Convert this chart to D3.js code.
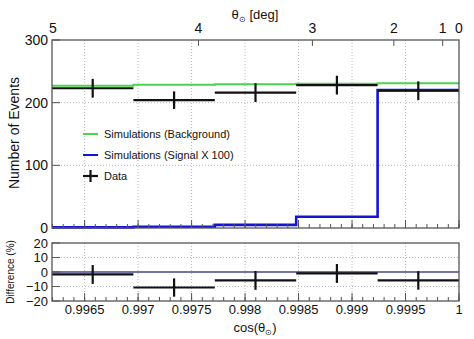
<!DOCTYPE html>
<html>
<head>
<meta charset="utf-8">
<script src="https://cdn.jsdelivr.net/npm/d3@7"></script>
<style>
  html, body { margin: 0; padding: 0; background: #fff; }
  svg { display: block; }
  text { font-family: "Liberation Sans", Arial, Helvetica, sans-serif; fill: #111; }
</style>
</head>
<body>
<svg id="chart" width="474" height="339"></svg>
<script>
// Bin edges in cos(theta_sun), five equal bins from cos(5 deg) to 1
const binEdges = [0.996195, 0.996956, 0.997717, 0.998478, 0.999239, 1.0];
// Counts per bin
const background = [227, 228.5, 229.5, 230, 231];
const signalX100 = [1, 2, 5, 18, 220];
const dataCounts = [223, 204, 216, 228, 219];
const dataErrors = [15, 14, 15, 15, 15];
// Relative difference (data - background) in percent
const diffValues = [-1.7, -10.7, -5.8, -1.0, -5.8];
const diffErrors = [6.5, 6.3, 6.5, 6.5, 6.4];
// Tick labels
const xTicks = [0.9965, 0.997, 0.9975, 0.998, 0.9985, 0.999, 0.9995, 1];
const xTickLabels = ["0.9965", "0.997", "0.9975", "0.998", "0.9985", "0.999", "0.9995", "1"];
const thetaTicks = [5, 4, 3, 2, 1, 0];
const yTicksMain = [0, 100, 200, 300];
const yTicksDiff = [-20, -10, 0, 10, 20];

const svg = d3.select("#chart");
const L = 52, R = 459;
const mainTop = 40, mainBot = 228;
const diffTop = 243, diffBot = 301;

const x = d3.scaleLinear().domain([binEdges[0], 1]).range([L, R]);
const yMain = d3.scaleLinear().domain([0, 300]).range([mainBot, mainTop]);
const yDiff = d3.scaleLinear().domain([-20, 20]).range([diffBot, diffTop]);

const gridColor = "#b8b8b8";
const frameColor = "#555";
const green = "#4cd34c";
const blue = "#1414d2";

function stepPath(values, y) {
  let d = "";
  values.forEach((v, i) => {
    const x0 = x(binEdges[i]), x1 = x(binEdges[i + 1]), yy = y(v);
    d += (i === 0 ? "M" + x0 + "," + yy : "L" + x0 + "," + yy) + "L" + x1 + "," + yy;
  });
  return d;
}

function panel(top, bot, y, yTicks, gridY) {
  const g = svg.append("g");
  // vertical grid
  xTicks.slice(0, -1).forEach(t => {
    g.append("line").attr("x1", x(t)).attr("x2", x(t)).attr("y1", top).attr("y2", bot)
      .attr("stroke", gridColor).attr("stroke-width", 1).attr("stroke-dasharray", "1,2");
  });
  // horizontal grid
  gridY.forEach(t => {
    g.append("line").attr("x1", L).attr("x2", R).attr("y1", y(t)).attr("y2", y(t))
      .attr("stroke", gridColor).attr("stroke-width", 1).attr("stroke-dasharray", "1,2");
  });
  return g;
}

function frame(top, bot, y, yTicks, labelSize) {
  const g = svg.append("g");
  // x ticks along bottom: majors and minors
  const minor = d3.range(0.9962, 1.00001, 0.0001);
  minor.forEach(t => {
    if (t < binEdges[0] || t > 1) return;
    g.append("line").attr("x1", x(t)).attr("x2", x(t)).attr("y1", bot).attr("y2", bot - 4)
      .attr("stroke", frameColor).attr("stroke-width", 1);
  });
  xTicks.forEach(t => {
    g.append("line").attr("x1", x(t)).attr("x2", x(t)).attr("y1", bot).attr("y2", bot - 8)
      .attr("stroke", frameColor).attr("stroke-width", 1);
  });
  // y ticks
  yTicks.forEach(t => {
    g.append("line").attr("x1", L).attr("x2", L + 8).attr("y1", y(t)).attr("y2", y(t))
      .attr("stroke", frameColor).attr("stroke-width", 1);
    g.append("text").attr("x", 48).attr("y", y(t)).attr("dy", "0.36em")
      .attr("text-anchor", "end").attr("font-size", labelSize)
      .text(t < 0 ? "\u2212" + Math.abs(t) : t);
  });
  g.append("rect").attr("x", L).attr("y", top).attr("width", R - L).attr("height", bot - top)
    .attr("fill", "none").attr("stroke", frameColor).attr("stroke-width", 1.3);
  return g;
}

// ---------- main panel ----------
panel(mainTop, mainBot, yMain, yTicksMain, [100, 200]);

svg.append("path").attr("d", stepPath(background, yMain))
  .attr("fill", "none").attr("stroke", green).attr("stroke-width", 2);
svg.append("path").attr("d", stepPath(signalX100, yMain))
  .attr("fill", "none").attr("stroke", blue).attr("stroke-width", 2.6);

dataCounts.forEach((v, i) => {
  const x0 = x(binEdges[i]), x1 = x(binEdges[i + 1]), xc = (x0 + x1) / 2;
  svg.append("line").attr("x1", x0).attr("x2", x1).attr("y1", yMain(v)).attr("y2", yMain(v))
    .attr("stroke", "#111").attr("stroke-width", 2.2);
  svg.append("line").attr("x1", xc).attr("x2", xc)
    .attr("y1", yMain(v - dataErrors[i])).attr("y2", yMain(v + dataErrors[i]))
    .attr("stroke", "#111").attr("stroke-width", 2.2);
});

frame(mainTop, mainBot, yMain, yTicksMain, 14);

// top axis in theta_sun (degrees)
const topG = svg.append("g");
thetaTicks.forEach(th => {
  const px = x(Math.cos(th * Math.PI / 180));
  if (th !== 5 && th !== 0) {
    topG.append("line").attr("x1", px).attr("x2", px).attr("y1", mainTop).attr("y2", mainTop + 6)
      .attr("stroke", frameColor).attr("stroke-width", 1);
  }
  topG.append("text").attr("x", th === 5 ? px + 1 : px).attr("y", 33)
    .attr("text-anchor", "middle").attr("font-size", 14).text(th);
});
const topTitle = topG.append("text").attr("x", 255).attr("y", 19).attr("text-anchor", "middle").attr("font-size", 13);
topTitle.append("tspan").text("\u03B8");
topTitle.append("tspan").attr("font-size", 8).attr("dy", 3).text("\u2299");
topTitle.append("tspan").attr("dy", -3).text(" [deg]");

// legend
const legend = svg.append("g");
const legItems = [
  { label: "Simulations (Background)", color: green, type: "line", y: 134 },
  { label: "Simulations (Signal X 100)", color: blue, type: "line", y: 155 },
  { label: "Data", color: "#111", type: "cross", y: 176 }
];
legItems.forEach(it => {
  legend.append("line").attr("x1", 83).attr("x2", 98).attr("y1", it.y).attr("y2", it.y)
    .attr("stroke", it.color).attr("stroke-width", it.type === "cross" ? 2.2 : 2);
  if (it.type === "cross") {
    legend.append("line").attr("x1", 90.5).attr("x2", 90.5).attr("y1", it.y - 6).attr("y2", it.y + 6)
      .attr("stroke", it.color).attr("stroke-width", 2.2);
  }
  legend.append("text").attr("x", 104).attr("y", it.y).attr("dy", "0.36em")
    .attr("font-size", 11).text(it.label);
});

// y-axis title
svg.append("text").attr("transform", "translate(19,133) rotate(-90)")
  .attr("text-anchor", "middle").attr("font-size", 14).text("Number of Events");

// ---------- difference panel ----------
panel(diffTop, diffBot, yDiff, yTicksDiff, [-10, 10]);

svg.append("line").attr("x1", L).attr("x2", R).attr("y1", yDiff(0)).attr("y2", yDiff(0))
  .attr("stroke", "#7474a6").attr("stroke-width", 2);

diffValues.forEach((v, i) => {
  const x0 = x(binEdges[i]), x1 = x(binEdges[i + 1]), xc = (x0 + x1) / 2;
  svg.append("line").attr("x1", x0).attr("x2", x1).attr("y1", yDiff(v)).attr("y2", yDiff(v))
    .attr("stroke", "#111").attr("stroke-width", 2.2);
  svg.append("line").attr("x1", xc).attr("x2", xc)
    .attr("y1", yDiff(v - diffErrors[i])).attr("y2", yDiff(v + diffErrors[i]))
    .attr("stroke", "#111").attr("stroke-width", 2.2);
});

frame(diffTop, diffBot, yDiff, yTicksDiff, 13);

// x tick labels
xTicks.forEach((t, i) => {
  svg.append("text").attr("x", x(t)).attr("y", 314).attr("text-anchor", "middle")
    .attr("font-size", 13).text(xTickLabels[i]);
});

// x-axis title
const xTitle = svg.append("text").attr("x", 255).attr("y", 332).attr("text-anchor", "middle").attr("font-size", 13);
xTitle.append("tspan").text("cos(\u03B8");
xTitle.append("tspan").attr("font-size", 8).attr("dy", 3).text("\u2299");
xTitle.append("tspan").attr("dy", -3).text(")");

// difference-panel y title
svg.append("text").attr("transform", "translate(14,272) rotate(-90)")
  .attr("text-anchor", "middle").attr("font-size", 10).text("Difference (%)");
</script>
</body>
</html>
